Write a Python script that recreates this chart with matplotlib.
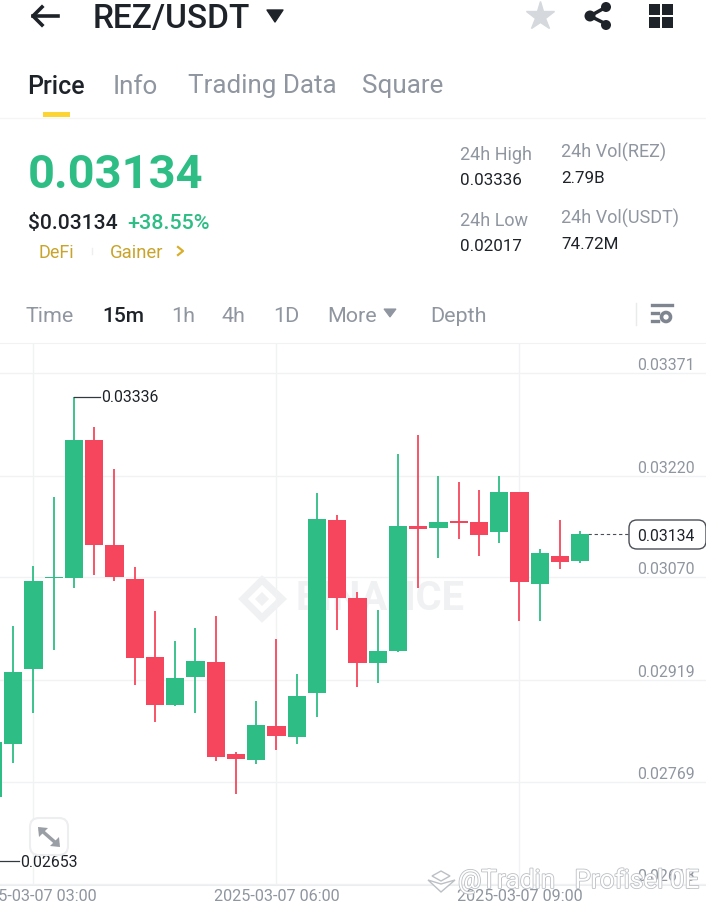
import matplotlib
matplotlib.use('Agg')
import matplotlib.pyplot as plt
import matplotlib.patheffects as pe
from matplotlib.patches import FancyBboxPatch, Polygon, Rectangle, Circle

plt.rcParams['font.family'] = ['Roboto', 'DejaVu Sans']

# 15m candles, first one is cut by the left edge
opens = [0.02747, 0.02825, 0.02935, 0.03069, 0.03069, 0.03273, 0.03118, 0.03068, 0.02953, 0.02882,
         0.02924, 0.02945, 0.02810, 0.02801, 0.02851, 0.02835, 0.02900, 0.03155, 0.03039, 0.02944,
         0.02961, 0.03145, 0.03143, 0.03153, 0.03151, 0.03137, 0.03196, 0.03061, 0.03102, 0.03094]
closes = [0.02828, 0.02931, 0.03065, 0.03070, 0.03273, 0.03118, 0.03071, 0.02952, 0.02882, 0.02922,
          0.02947, 0.02806, 0.02802, 0.02852, 0.02836, 0.02896, 0.03156, 0.03039, 0.02944, 0.02962,
          0.03145, 0.03141, 0.03151, 0.03150, 0.03132, 0.03196, 0.03063, 0.03106, 0.03093, 0.03134]
highs = [0.02846, 0.02999, 0.03087, 0.03189, 0.03336, 0.03292, 0.03230, 0.03086, 0.03021, 0.02977,
         0.02996, 0.03013, 0.02813, 0.02888, 0.02980, 0.02928, 0.03194, 0.03162, 0.03048, 0.03022,
         0.03251, 0.03280, 0.03220, 0.03211, 0.03198, 0.03220, 0.03196, 0.03112, 0.03155, 0.03139]
lows = [0.02747, 0.02797, 0.02871, 0.02963, 0.03055, 0.03074, 0.03065, 0.02912, 0.02857, 0.02880,
        0.02871, 0.02799, 0.02751, 0.02795, 0.02816, 0.02825, 0.02864, 0.02992, 0.02909, 0.02914,
        0.02960, 0.03055, 0.03099, 0.03127, 0.03101, 0.03121, 0.03006, 0.03006, 0.03083, 0.03091]

price_ticks = [0.03371, 0.03220, 0.03070, 0.02919, 0.02769, 0.02618]
time_idx = [2, 14, 26]
time_labels = ['2025-03-07 03:00', '2025-03-07 06:00', '2025-03-07 09:00']
last_price = 0.03134
max_price = 0.03336
min_price = 0.02653

GREEN = '#2EBD85'
RED = '#F6465D'
DARK = '#1E2329'
GRAY = '#8F96A0'
GRID = '#F1F2F3'
W, H = 706, 902

fig = plt.figure(figsize=(W / 100, H / 100), dpi=100, facecolor='white')


def pixel_axes(z):
    a = fig.add_axes([0, 0, 1, 1], zorder=z)
    a.set_xlim(0, W)
    a.set_ylim(H, 0)
    a.axis('off')
    return a


def txt(a, x, y, s, px, color=DARK, weight='normal', ha='left'):
    return a.text(x, y + 1.5, s, fontsize=px * 0.72, color=color, weight=weight, ha=ha, va='center')


# watermark sits behind the candles
back = pixel_axes(-1)
logo = [(262, 580), (282, 599), (262, 618), (243, 599)]
back.add_patch(Polygon(logo, closed=True, fc='none', ec='#F0F1F2', lw=5))
back.add_patch(Polygon([(262, 592), (269, 599), (262, 606), (255, 599)], fc='#F0F1F2', ec='none'))
txt(back, 295, 598, 'BINANCE', 40, color='#F0F1F2', weight='bold')

# chart part, y 343 to 885 px
ax = fig.add_axes([0, 1 - 885 / H, 1, (885 - 343) / H])
ax.patch.set_alpha(0)
ax.set_xlim(0.3457, 35.21)
ax.set_ylim(0.02617, 0.034152)
for s in ['left', 'right']:
    ax.spines[s].set_visible(False)
ax.spines['top'].set_color(GRID)
ax.spines['bottom'].set_color('#ECEDEF')
ax.set_yticks(price_ticks)
ax.set_xticks(time_idx)
ax.set_xticklabels(time_labels, fontsize=11.7, color=GRAY)
ax.tick_params(axis='both', length=0)
ax.tick_params(axis='x', pad=3)
ax.set_yticklabels([])
ax.grid(True, color=GRID, lw=1)
ax.set_axisbelow(True)

for p in price_ticks:
    ax.text(695 / W, p + 0.00011, '%.5f' % p, transform=ax.get_yaxis_transform(),
            ha='right', va='center', fontsize=11.4, color=GRAY)

idx = list(range(len(opens)))
colors = [GREEN if c >= o else RED for o, c in zip(opens, closes)]
ax.vlines(idx, lows, highs, colors=colors, lw=1.3, zorder=3)
ax.bar(idx, [max(abs(c - o), 0.00002) for o, c in zip(opens, closes)],
       bottom=[min(o, c) for o, c in zip(opens, closes)], width=0.89, color=colors, zorder=4)

# max / min / last price marks
ax.plot([4, 5.3], [max_price, max_price], color='#33383F', lw=0.9, zorder=5)
ax.text(5.33, max_price - 0.00001, '%.5f' % max_price, fontsize=11.4, color=DARK, va='center', zorder=5)
ax.plot([0.3, 1.3], [min_price, min_price], color='#33383F', lw=0.9, zorder=5)
ax.text(1.33, min_price - 0.00003, '%.5f' % min_price, fontsize=11.4, color=DARK, va='center', zorder=5)
ax.plot([29.4, 31.4], [last_price, last_price], color='#4A4F57', lw=0.8, ls=(0, (3, 2.5)), zorder=2)

# page around the chart, in pixel coordinates
ui = pixel_axes(10)

# header
ui.plot([33, 58], [16, 16], color=DARK, lw=2.6)
ui.plot([42, 33, 42], [7, 16, 25], color=DARK, lw=2.6)
txt(ui, 93, 17, 'REZ/USDT', 33.5, weight='medium')
ui.add_patch(Polygon([(267, 10), (283, 10), (275, 22)], fc=DARK, ec=DARK, lw=1, joinstyle='round'))
ui.plot([540], [16], marker='*', ms=21, color='#D5D8DC', mec='#D5D8DC')
ui.plot([608, 590, 608], [6, 16, 25], color=DARK, lw=2.5)
for cx, cy, r in [(590, 16, 5.5), (606, 7, 5), (606, 25, 5)]:
    ui.add_patch(Circle((cx, cy), r, fc=DARK, ec='none'))
for x0 in [649, 662]:
    for y0 in [4, 17]:
        ui.add_patch(Rectangle((x0, y0), 11, 11, fc=DARK, ec='none'))

# tabs
tabs = [(27, 'Price', DARK), (113, 'Info', GRAY), (188, 'Trading Data', GRAY), (362, 'Square', GRAY)]
for x, s, c in tabs:
    txt(ui, x, 85, s, 25 if s == 'Price' else 26, color=c, weight='medium' if s == 'Price' else 'normal')
ui.add_patch(Rectangle((43, 112), 27, 5, fc='#FCD535', ec='none'))
ui.plot([0, W], [117.5, 117.5], color='#F5F5F5', lw=1)

# price block
txt(ui, 28, 174, '0.03134', 47, color=GREEN, weight='bold')
txt(ui, 28, 222, '$0.03134', 21, weight='medium')
txt(ui, 127, 222, '+38.55%', 21.5, color=GREEN, weight='medium')
txt(ui, 38, 251, 'DeFi', 18, color='#C9A42B')
ui.plot([92, 92], [248, 254], color='#EEEEEE', lw=1)
txt(ui, 110, 251, 'Gainer', 18.5, color='#C9A42B')
ui.plot([178, 183, 178], [247, 251, 255], color='#D9AE2A', lw=1.6)

# 24h stats
txt(ui, 460, 153, '24h High', 18, color=GRAY)
txt(ui, 460, 179, '0.03336', 17, color=DARK)
txt(ui, 561, 151, '24h Vol(REZ)', 18, color=GRAY)
txt(ui, 561, 177, '2.79B', 17, color=DARK)
txt(ui, 460, 219, '24h Low', 18, color=GRAY)
txt(ui, 460, 245, '0.02017', 17, color=DARK)
txt(ui, 561, 217, '24h Vol(USDT)', 18, color=GRAY)
txt(ui, 561, 243, '74.72M', 17, color=DARK)

# interval row
for x, s in [(26, 'Time'), (171, '1h'), (222, '4h'), (273, '1D'), (327, 'More'), (430, 'Depth')]:
    txt(ui, x, 315, s, 21.5, color=GRAY)
txt(ui, 102, 315, '15m', 21, weight='medium')
ui.add_patch(Polygon([(384, 309), (396, 309), (390, 317)], fc=GRAY, ec=GRAY, lw=0.8))
ui.plot([636, 636], [303, 325], color='#E9EAEC', lw=1)
ui.plot([652, 672], [305, 305], color='#7F8690', lw=2.4)
ui.plot([652, 658], [313, 313], color='#7F8690', lw=2.4)
ui.plot([652, 658], [321, 321], color='#7F8690', lw=2.4)
ui.add_patch(Circle((666, 317), 4.5, fc='none', ec='#7F8690', lw=2.6))

# last price box
ui.add_patch(FancyBboxPatch((632, 523), 71, 23, boxstyle='round,pad=3,rounding_size=8',
                            fc='white', ec='#4A4F57', lw=1))
txt(ui, 695, 535, '0.03134', 15.8, ha='right')

# expand button
ui.add_patch(FancyBboxPatch((34, 822), 30, 29, boxstyle='round,pad=4,rounding_size=9',
                            fc='white', ec='#EDEEEF', lw=1.5))
ui.plot([41, 57], [830, 844], color='#9A9FA6', lw=2.5)
ui.add_patch(Polygon([(38, 827), (48, 828), (39, 837)], fc='#9A9FA6', ec='none'))
ui.add_patch(Polygon([(60, 847), (50, 846), (59, 837)], fc='#9A9FA6', ec='none'))

# user watermark at the bottom
stroke = [pe.withStroke(linewidth=1.2, foreground='#BCC0C4')]
t = txt(ui, 458, 879, '@Tradin   Profisel 0E', 26, color='white')
t.set_path_effects(stroke)
ui.add_patch(Polygon([(428, 880), (441, 892), (455, 880), (441, 884)], fc='white', ec='#BCC0C4', lw=1))
ui.add_patch(Polygon([(432, 876), (441, 871), (450, 876), (441, 881)], fc='white', ec='#BCC0C4', lw=1))

fig.savefig('out.png', dpi=100)
